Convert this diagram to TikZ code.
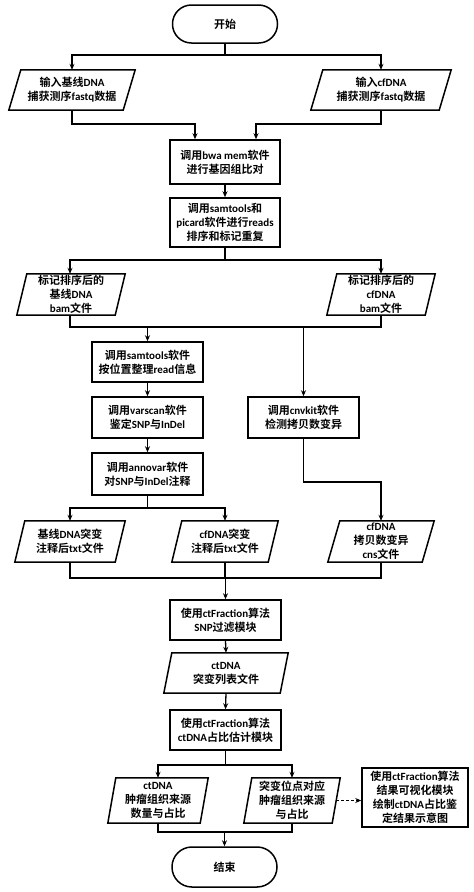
\documentclass[tikz,border=0pt]{standalone}
\usepackage{fontspec}
\setmainfont{Carlito}
\newfontfamily\cjk{Noto Sans CJK SC}[BoldFont={* Bold}]
\newcommand\C[1]{{\cjk\bfseries #1}}
\usetikzlibrary{arrows.meta,calc}
\tikzset{
  txt/.style={align=center,inner sep=0pt,font=\bfseries\fontsize{11}{14}\selectfont},
  boxline/.style={line width=1.5pt,line join=miter},
  procbox/.style={txt,draw,boxline,minimum width=#1},
  pill/.style={txt,draw,boxline,minimum width=105pt,minimum height=38pt,rounded corners=18.9pt},
  conn/.style={line width=1.3pt},
  arr/.style={conn,-{Stealth[length=6pt,width=5pt]}},
}
\newcommand\parabox[6]{% name, center, w, h, text, slant
  \node[txt,minimum width=#3,minimum height=#4] (#1) at #2 {#5};
  \draw[boxline] ([xshift=-#6]#1.south west) -- ([xshift=-#6]#1.south east)
    -- ([xshift=#6]#1.north east) -- ([xshift=#6]#1.north west) -- cycle;}
\begin{document}
\begin{tikzpicture}[x=1pt,y=-1pt]
\useasboundingbox (0,0) rectangle (474,892);
\fill[white] (0,0) rectangle (474,892);
% nodes
\node[pill] (start) at (225,24) {\C{开始}};
\parabox{in1}{(72,90)}{114pt}{40pt}{\C{输入基线}DNA\\\C{捕获测序}fastq\C{数据}}{6pt}
\parabox{in2}{(381,90)}{128pt}{40pt}{\C{输入}cfDNA\\\C{捕获测序}fastq\C{数据}}{6pt}
\node[procbox=110pt,minimum height=44pt] (bwa) at (225,162) {\C{调用}bwa mem\C{软件}\\\C{进行基因组比对}};
\node[procbox=110pt,minimum height=49pt] (sam1) at (225,222.5) {\C{调用}samtools\C{和}\\picard\C{软件进行}reads\\\C{排序和标记重复}};
\parabox{mark1}{(71,294.5)}{98pt}{41pt}{\C{标记排序后的}\\\C{基线}DNA\\bam\C{文件}}{5pt}
\parabox{mark2}{(381,294.5)}{98pt}{41pt}{\C{标记排序后的}\\cfDNA\\bam\C{文件}}{5pt}
\node[procbox=111pt,minimum height=40pt] (sam2) at (147.5,362) {\C{调用}samtools\C{软件}\\\C{按位置整理}read\C{信息}};
\node[procbox=111pt,minimum height=41pt] (varscan) at (147.5,417.5) {\C{调用}varscan\C{软件}\\\C{鉴定}SNP\C{与}InDel};
\node[procbox=111pt,minimum height=42pt] (annovar) at (147.5,474) {\C{调用}annovar\C{软件}\\\C{对}SNP\C{与}InDel\C{注释}};
\node[procbox=111pt,minimum height=41pt] (cnvkit) at (303.5,417.5) {\C{调用}cnvkit\C{软件}\\\C{检测拷贝数变异}};
\parabox{mut1}{(70,541.5)}{100pt}{41pt}{\C{基线}DNA\C{突变}\\\C{注释后}txt\C{文件}}{5pt}
\parabox{mut2}{(225,541.5)}{96pt}{41pt}{cfDNA\C{突变}\\\C{注释后}txt\C{文件}}{5pt}
\parabox{cns}{(381,541.5)}{94pt}{41pt}{cfDNA\\\C{拷贝数变异}\\cns\C{文件}}{6pt}
\node[procbox=111pt,minimum height=40pt] (snp) at (225.5,620) {\C{使用}ctFraction\C{算法}\\SNP\C{过滤模块}};
\parabox{ctdna}{(226,673)}{116pt}{40pt}{ctDNA\\\C{突变列表文件}}{4pt}
\node[procbox=111pt,minimum height=40pt] (est) at (225.5,730) {\C{使用}ctFraction\C{算法}\\ctDNA\C{占比估计模块}};
\parabox{res1}{(158,800.5)}{92pt}{45pt}{ctDNA\\\C{肿瘤组织来源}\\\C{数量与占比}}{4pt}
\parabox{res2}{(292,800.5)}{88pt}{45pt}{\C{突变位点对应}\\\C{肿瘤组织来源}\\\C{与占比}}{4pt}
\node[procbox=106pt,minimum height=59pt] (vis) at (415,797.5) {\C{使用}ctFraction\C{算法}\\\C{结果可视化模块}\\\C{绘制}ctDNA\C{占比鉴}\\\C{定结果示意图}};
\node[pill,minimum height=40pt,rounded corners=19.9pt] (end) at (224.5,867) {\C{结束}};
% connectors
\coordinate (h1) at (0,55);
\draw[arr] (start.south) |- (in1.north |- h1) -- (in1.north);
\draw[arr] (start.south) |- (in2.north |- h1) -- (in2.north);
\coordinate (h2) at (0,124);
\draw[arr] (in1.south) |- ([xshift=-30pt]bwa.north |- h2) -- ([xshift=-30pt]bwa.north);
\draw[arr] (in2.south) |- ([xshift=31pt]bwa.north |- h2) -- ([xshift=31pt]bwa.north);
\draw[arr] (bwa.south) -- (sam1.north);
\coordinate (h3) at (0,260);
\draw[arr] (sam1.south) |- ([xshift=-1pt]mark1.north |- h3) -- ([xshift=-1pt]mark1.north);
\draw[arr] (sam1.south) |- (mark2.north |- h3) -- (mark2.north);
\coordinate (h4) at (0,327);
\draw[conn] ([xshift=-1pt]mark1.south) -- ([xshift=-1pt]mark1.south |- h4) -- (mark2.south |- h4) -- (mark2.south);
\draw[arr] (sam2.north |- h4) -- (sam2.north);
\draw[arr] (cnvkit.north |- h4) -- (cnvkit.north);
\draw[arr] (sam2.south) -- (varscan.north);
\draw[arr] (varscan.south) -- (annovar.north);
\coordinate (h5) at (0,482);
\draw[arr] (cnvkit.south) |- (cns.north |- h5) -- (cns.north);
\coordinate (h6) at (0,508);
\draw[arr] (annovar.south) |- (mut1.north |- h6) -- (mut1.north);
\draw[arr] (annovar.south) |- (mut2.north |- h6) -- (mut2.north);
\coordinate (h7) at (0,578);
\draw[conn] (mut1.south) -- (mut1.south |- h7) -- (cns.south |- h7) -- (cns.south);
\draw[conn] (mut2.south) -- (mut2.south |- h7);
\draw[arr] (snp.north |- h7) -- (snp.north);
\draw[arr] (snp.south) -- (ctdna.north);
\draw[arr] (ctdna.south) -- (est.north);
\coordinate (h8) at (0,765);
\draw[arr] (est.south) |- (res1.north |- h8) -- (res1.north);
\draw[arr] (est.south) |- (res2.north |- h8) -- (res2.north);
\coordinate (h9) at (0,832);
\draw[conn] (res1.south) -- (res1.south |- h9) -- (res2.south |- h9) -- (res2.south);
\draw[arr] (end.north |- h9) -- (end.north);
\draw[arr,dashed,dash pattern=on 3pt off 2pt] (res2.east) -- (res2.east -| vis.west);
\end{tikzpicture}
\end{document}
